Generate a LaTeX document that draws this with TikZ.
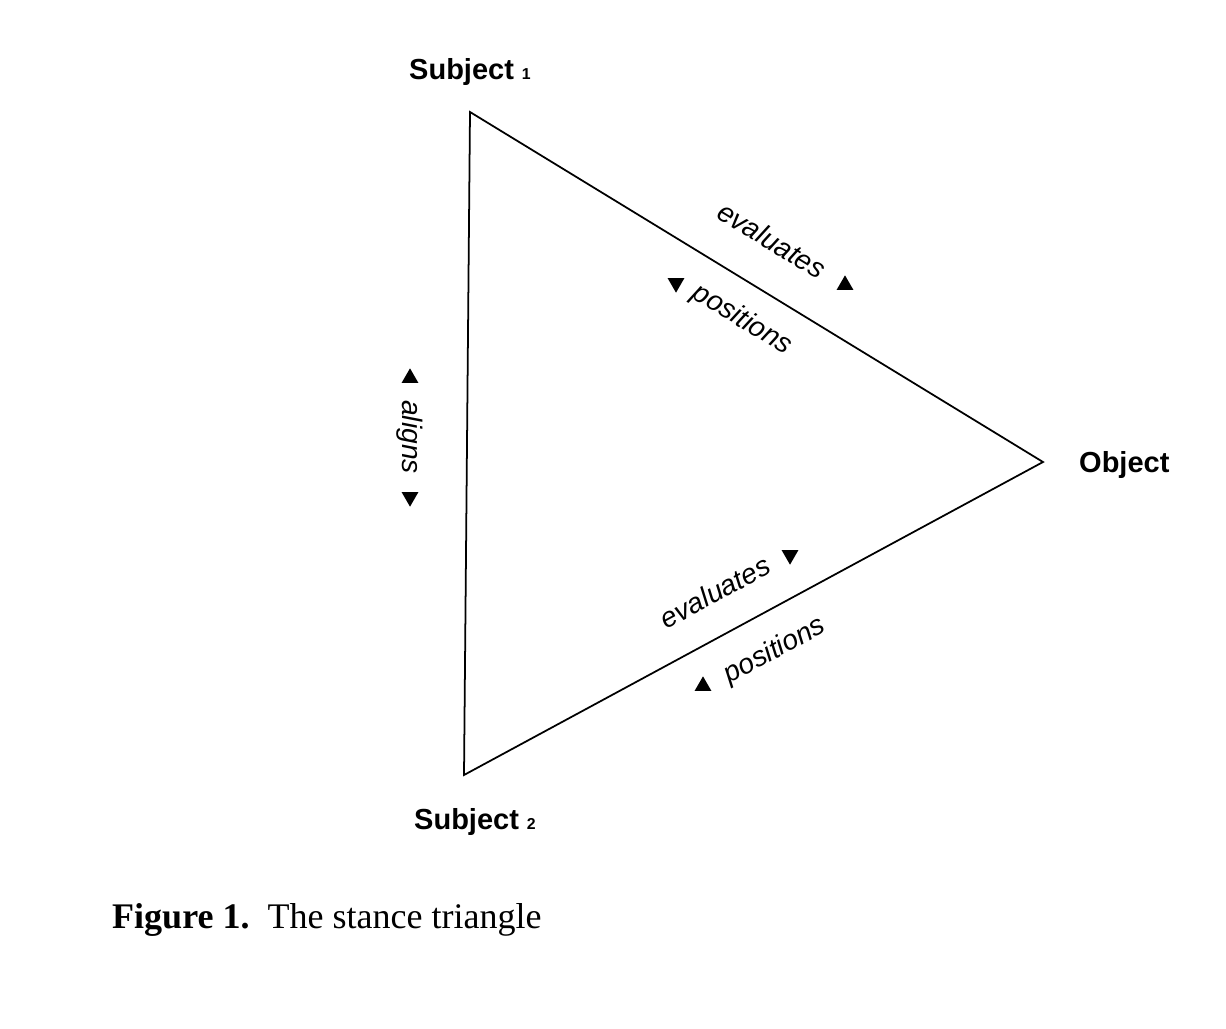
\documentclass[tikz,border=0pt]{standalone}
\usepackage{fontspec}
\setmainfont{Liberation Serif}
\newfontfamily\arl{Liberation Sans}
\usetikzlibrary{shapes.geometric}
\begin{document}
\begin{tikzpicture}[x=0.02cm,y=-0.02cm,
 vlab/.style={font=\arl\bfseries\fontsize{16.5}{18}\selectfont},
 elab/.style={font=\arl\itshape\fontsize{16}{17}\selectfont,inner sep=0pt},
 tri/.style={regular polygon,regular polygon sides=3,fill=black,inner sep=0pt,minimum size=11pt}]
\useasboundingbox (0,0) rectangle (1226,1028);
\coordinate (s1) at (470,112);
\coordinate (s2) at (464,775);
\coordinate (ob) at (1043,462);
\draw[line width=1pt] (s1) -- (ob) -- (s2) -- cycle;
\node[vlab] (l1) at (470,72) {Subject {\fontsize{9}{9}\selectfont 1}};
\node[vlab] (l2) at (475,822) {Subject {\fontsize{9}{9}\selectfont 2}};
\node[vlab,anchor=west] (lo) at (1073,465) {Object};
\node[elab,rotate=-31.4] (e1) at (772,240) {evaluates};
\node[elab,rotate=-31.4] (p1) at (742,320) {positions};
\node[elab,rotate=28.4] (e2) at (715,592) {evaluates};
\node[elab,rotate=28.4] (p2) at (775,651) {positions};
\node[elab,rotate=-90] (al) at (410,437) {aligns};
\node[tri] (t1) at (845,285) {};
\node[tri,shape border rotate=180] (t2) at (676,283) {};
\node[tri,shape border rotate=180] (t3) at (790,555) {};
\node[tri] (t4) at (703,686) {};
\node[tri] (t5) at (410,378) {};
\node[tri,shape border rotate=180] (t6) at (410,497) {};
\node[anchor=west,font=\fontsize{20.5}{23}\selectfont] (cap) at (106,920) {\textbf{Figure 1.}\enspace The stance triangle};
\end{tikzpicture}
\end{document}
